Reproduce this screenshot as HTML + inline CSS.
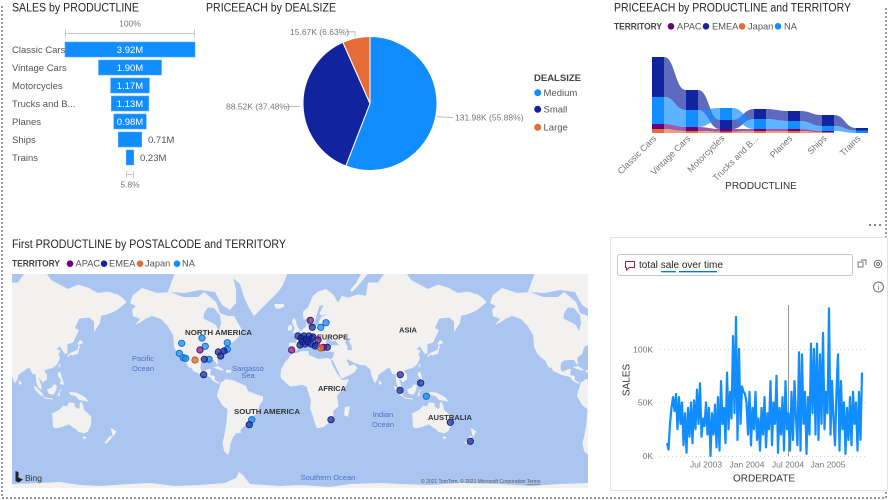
<!DOCTYPE html>
<html>
<head>
<meta charset="utf-8">
<style>
html,body{margin:0;padding:0;background:#fff;}
svg{display:block;}
text{font-family:"Liberation Sans",sans-serif;}
</style>
</head>
<body>
<svg width="891" height="500" viewBox="0 0 891 500" xmlns="http://www.w3.org/2000/svg">
<rect width="891" height="500" fill="#fff"/>

<!-- page dotted borders -->
<line x1="2" y1="6" x2="2" y2="498" stroke="#7a7a7a" stroke-width="1.5" stroke-dasharray="2 2"/>
<line x1="886" y1="8" x2="886" y2="498" stroke="#7a7a7a" stroke-width="1.5" stroke-dasharray="2 2"/>
<line x1="2" y1="498" x2="886" y2="498" stroke="#7a7a7a" stroke-width="1.5" stroke-dasharray="2 2"/>

<!-- ================= FUNNEL ================= -->
<text x="12" y="11.5" font-size="11.5" fill="#252423" textLength="127" lengthAdjust="spacingAndGlyphs">SALES by PRODUCTLINE</text>
<text x="130" y="26.5" font-size="8.5" fill="#777" text-anchor="middle">100%</text>
<g stroke="#c8c8c8" stroke-width="1">
<line x1="65" y1="33.5" x2="195" y2="33.5"/><line x1="65.5" y1="29.5" x2="65.5" y2="37.5"/><line x1="194.5" y1="29.5" x2="194.5" y2="37.5"/>
<line x1="126" y1="174.5" x2="134" y2="174.5"/><line x1="126.5" y1="171" x2="126.5" y2="178"/><line x1="133.5" y1="171" x2="133.5" y2="178"/>
</g>
<text x="130" y="187.5" font-size="8.5" fill="#777" text-anchor="middle">5.8%</text>
<g fill="#118dff" stroke="#5aadff" stroke-width="0.6">
<rect x="65" y="42" width="130" height="15"/>
<rect x="98.5" y="60" width="63" height="15"/>
<rect x="110.6" y="78" width="38.8" height="15"/>
<rect x="111.25" y="96" width="37.5" height="15"/>
<rect x="113.75" y="114" width="32.5" height="15"/>
<rect x="118.25" y="132" width="23.5" height="15"/>
<rect x="126.2" y="150" width="7.6" height="15"/>
</g>
<g font-size="9.5" fill="#555">
<text x="12" y="53">Classic Cars</text>
<text x="12" y="71">Vintage Cars</text>
<text x="12" y="89">Motorcycles</text>
<text x="12" y="107">Trucks and B...</text>
<text x="12" y="125">Planes</text>
<text x="12" y="143">Ships</text>
<text x="12" y="161">Trains</text>
</g>
<g font-size="9.5" fill="#fff" text-anchor="middle">
<text x="130" y="53">3.92M</text>
<text x="130" y="71">1.90M</text>
<text x="130" y="89">1.17M</text>
<text x="130" y="107">1.13M</text>
<text x="130" y="125">0.98M</text>
</g>
<g font-size="9.5" fill="#555">
<text x="148" y="143">0.71M</text>
<text x="140" y="161">0.23M</text>
</g>

<!-- ================= PIE ================= -->
<text x="206" y="11.5" font-size="11.5" fill="#252423" textLength="130" lengthAdjust="spacingAndGlyphs">PRICEEACH by DEALSIZE</text>
<g stroke="#fff" stroke-width="1">
<path d="M370,103.5 L370,36.5 A67,67 0 1 1 345.8,165.98 Z" fill="#118dff"/>
<path d="M370,103.5 L345.8,165.98 A67,67 0 0 1 342.86,42.24 Z" fill="#12239e"/>
<path d="M370,103.5 L342.86,42.24 A67,67 0 0 1 370,36.5 Z" fill="#e66c37"/>
</g>
<g stroke="#bbb" stroke-width="1" fill="none">
<polyline points="346,31.7 355,31.7 355,37"/>
<line x1="285" y1="106.5" x2="300" y2="106.5"/>
<line x1="437" y1="116.7" x2="453" y2="117.5"/>
</g>
<g font-size="8.5" fill="#777">
<text x="290" y="35">15.67K (6.63%)</text>
<text x="226" y="109.5">88.52K (37.48%)</text>
<text x="455" y="120.5">131.98K (55.88%)</text>
</g>
<text x="534" y="81" font-size="9.5" font-weight="bold" fill="#444">DEALSIZE</text>
<circle cx="537.7" cy="92.7" r="3.5" fill="#118dff"/>
<circle cx="537.7" cy="109.3" r="3.5" fill="#12239e"/>
<circle cx="537.7" cy="127.3" r="3.5" fill="#e66c37"/>
<g font-size="9.5" fill="#555">
<text x="543.5" y="96">Medium</text>
<text x="543.5" y="112.7">Small</text>
<text x="543.5" y="130.7">Large</text>
</g>

<!-- ================= RIBBON ================= -->
<text x="614" y="11.5" font-size="11.5" fill="#252423" textLength="237" lengthAdjust="spacingAndGlyphs">PRICEEACH by PRODUCTLINE and TERRITORY</text>
<text x="614" y="29.3" font-size="9.3" font-weight="bold" fill="#444" textLength="48" lengthAdjust="spacingAndGlyphs">TERRITORY</text>
<circle cx="671" cy="26.3" r="3.3" fill="#6b007b"/><text x="677" y="29.3" font-size="9.3" fill="#555">APAC</text>
<circle cx="706" cy="26.3" r="3.3" fill="#12239e"/><text x="712" y="29.3" font-size="9.3" fill="#555">EMEA</text>
<circle cx="742" cy="26.3" r="3.3" fill="#e66c37"/><text x="748" y="29.3" font-size="9.3" fill="#555">Japan</text>
<circle cx="778" cy="26.3" r="3.3" fill="#118dff"/><text x="784" y="29.3" font-size="9.3" fill="#555">NA</text>

<!-- ribbons -->
<g fill="#12239e" fill-opacity="0.68">
<path d="M664,57 C675,57 675,90 686,90 L686,110 C675,110 675,97 664,97 Z"/>
<path d="M698,90 C709,90 709,120 720,120 L720,129 C709,129 709,110 698,110 Z"/>
<path d="M732,120 C743,120 743,109 754,109 L754,119 C743,119 743,129 732,129 Z"/>
<path d="M766,109 C777,109 777,111 788,111 L788,121 C777,121 777,119 766,119 Z"/>
<path d="M800,111 C811,111 811,115 822,115 L822,126 C811,126 811,121 800,121 Z"/>
<path d="M834,115 C845,115 845,128 856,128 L856,130.5 C845,130.5 845,126 834,126 Z"/>
</g>
<g fill="#118dff" fill-opacity="0.68">
<path d="M664,97 C675,97 675,110 686,110 L686,127 C675,127 675,124 664,124 Z"/>
<path d="M698,110 C709,110 709,108 720,108 L720,120 C709,120 709,127 698,127 Z"/>
<path d="M732,108 C743,108 743,119 754,119 L754,129 C743,129 743,120 732,120 Z"/>
<path d="M766,119 C777,119 777,121 788,121 L788,129 C777,129 777,129 766,129 Z"/>
<path d="M800,121 C811,121 811,126 822,126 L822,131 C811,131 811,129 800,129 Z"/>
<path d="M834,126 C845,126 845,130.5 856,130.5 L856,133 C845,133 845,131 834,131 Z"/>
</g>
<g fill="#6b007b" fill-opacity="0.65">
<path d="M664,124 C675,124 675,127 686,127 L686,131 C675,131 675,129 664,129 Z"/>
<path d="M698,127 C709,127 709,129 720,129 L720,131.5 C709,131.5 709,131 698,131 Z"/>
<path d="M732,129 C743,129 743,129 754,129 L754,131 C743,131 743,131.5 732,131.5 Z"/>
<path d="M766,129 L788,129 L788,131 L766,131 Z"/>
<path d="M800,129 C811,129 811,131 822,131 L822,132.3 C811,132.3 811,131 800,131 Z"/>
</g>
<g fill="#e66c37" fill-opacity="0.65">
<path d="M664,129 C675,129 675,131 686,131 L686,133 L664,133 Z"/>
<path d="M698,131 C709,131 709,131.5 720,131.5 L720,133 L698,133 Z"/>
<path d="M732,131.5 C743,131.5 743,131 754,131 L754,133 L732,133 Z"/>
<path d="M766,131 L788,131 L788,133 L766,133 Z"/>
<path d="M800,131 C811,131 811,132.3 822,132.3 L822,133 L800,133 Z"/>
</g>
<!-- columns -->
<g>
<rect x="652" y="57" width="12" height="40" fill="#12239e"/><rect x="652" y="97" width="12" height="27" fill="#118dff"/><rect x="652" y="124" width="12" height="5" fill="#6b007b"/><rect x="652" y="129" width="12" height="4" fill="#e66c37"/>
<rect x="686" y="90" width="12" height="20" fill="#12239e"/><rect x="686" y="110" width="12" height="17" fill="#118dff"/><rect x="686" y="127" width="12" height="4" fill="#6b007b"/><rect x="686" y="131" width="12" height="2" fill="#e66c37"/>
<rect x="720" y="108" width="12" height="12" fill="#118dff"/><rect x="720" y="120" width="12" height="9" fill="#12239e"/><rect x="720" y="129" width="12" height="2.5" fill="#6b007b"/><rect x="720" y="131.5" width="12" height="1.5" fill="#e66c37"/>
<rect x="754" y="109" width="12" height="10" fill="#12239e"/><rect x="754" y="119" width="12" height="10" fill="#118dff"/><rect x="754" y="129" width="12" height="2" fill="#6b007b"/><rect x="754" y="131" width="12" height="2" fill="#e66c37"/>
<rect x="788" y="111" width="12" height="10" fill="#12239e"/><rect x="788" y="121" width="12" height="8" fill="#118dff"/><rect x="788" y="129" width="12" height="2" fill="#6b007b"/><rect x="788" y="131" width="12" height="2" fill="#e66c37"/>
<rect x="822" y="115" width="12" height="11" fill="#12239e"/><rect x="822" y="126" width="12" height="5" fill="#118dff"/><rect x="822" y="131" width="12" height="1.3" fill="#6b007b"/><rect x="822" y="132.3" width="12" height="0.7" fill="#e66c37"/>
<rect x="856" y="128" width="12" height="2.5" fill="#12239e"/><rect x="856" y="130.5" width="12" height="2.5" fill="#118dff"/>
</g>
<g font-size="9" fill="#777" text-anchor="end">
<text transform="translate(657,139) rotate(-45)">Classic Cars</text>
<text transform="translate(691,139) rotate(-45)">Vintage Cars</text>
<text transform="translate(725,139) rotate(-45)">Motorcycles</text>
<text transform="translate(759,139) rotate(-45)">Trucks and B...</text>
<text transform="translate(793,139) rotate(-45)">Planes</text>
<text transform="translate(827,139) rotate(-45)">Ships</text>
<text transform="translate(861,139) rotate(-45)">Trains</text>
</g>
<text x="761" y="189" font-size="10" fill="#333" text-anchor="middle">PRODUCTLINE</text>
<g fill="#777"><circle cx="870" cy="225" r="1.1"/><circle cx="875" cy="225" r="1.1"/><circle cx="880" cy="225" r="1.1"/></g>

<!-- ================= MAP ================= -->
<text x="12" y="248" font-size="11.5" fill="#252423" textLength="274" lengthAdjust="spacingAndGlyphs">First PRODUCTLINE by POSTALCODE and TERRITORY</text>
<text x="12" y="266.7" font-size="9.3" font-weight="bold" fill="#444" textLength="48" lengthAdjust="spacingAndGlyphs">TERRITORY</text>
<circle cx="70" cy="263.7" r="3.3" fill="#6b007b"/><text x="75.5" y="266.7" font-size="9.3" fill="#555">APAC</text>
<circle cx="104" cy="263.7" r="3.3" fill="#12239e"/><text x="109" y="266.7" font-size="9.3" fill="#555">EMEA</text>
<circle cx="140" cy="263.7" r="3.3" fill="#e66c37"/><text x="145" y="266.7" font-size="9.3" fill="#555">Japan</text>
<circle cx="177" cy="263.7" r="3.3" fill="#118dff"/><text x="182" y="266.7" font-size="9.3" fill="#555">NA</text>

<defs>
<clipPath id="mc"><rect x="12" y="274" width="576" height="214"/></clipPath>
<g id="nam">
<polygon points="130,303 133,295 142,288 157,293 170,292 183,297 198,297 204,292 210,297 216,302 220,313 228,316 234,316 242,330 238,338 232,343 228,345 224,347 222,354 217,358 218,363 217.5,365 216,363 214,360 209,360 204,360.5 201,363 200.5,368.5 202,372 207.5,369.5 211,369 210,375 215,376 214.5,380 218,382 220.5,383 218,383.5 213,381 210,377 206,376 202,375 193,371 192,368 188.5,367.3 185.5,361 183,359 181,357.5 177.5,354 174,347 173.5,339 173.3,335.6 168,326.5 161,319 152,316 146,318.5 140,322.5 135,325 140,319 133,316 132,310 136,306"/>
<polygon points="168,292 175,272 232,272 236,290 236,303 230,310 222,305 215,292 200,290 185,293"/>
<polygon points="226,272 288,272 283,285 278,292 268,302 260,310 254,316 249,308 244,297 240,284 233,278"/>
<polygon points="220.5,383 226,379 234,380.5 238,382.5 246,386 248,391 254,393.5 263,396.5 263,400 259,406 258,413.5 250,417.7 246,424.8 240.5,429.6 241,432.8 236,433.4 233,437.4 230.5,443.5 229.5,451.3 228,455 224,451 222.5,443 224.5,434.7 226.5,422.5 227.5,409.3 222,405.1 217,396 218,391 219,389 220.5,384"/>
<polygon points="213,367.5 218,366 224,370 221,370.5"/>
<polygon points="226,370 231,370 231,372.5 226,372.5"/>
<polygon points="274,304 284,304 284,306.7 279,308.9 275.5,308" />
</g>
<g id="eur">
<polygon points="289,343.8 289,351.1 292,352.5 296,351.5 298,348.3 301,344.1 304,343.5 307,342 310.5,345.3 314,350 316.5,347 313,344 311.5,339.8 314,341 317,344.4 318,348.3 321,351.7 322,349.6 321,346.4 324,346.2 325,351 327,351.7 334,351.7 333.5,355.9 332.5,357.7 330.5,359.5 328,358 318,359 313,356.6 309,355.3 308.5,351 301,351.3 296,353.3 292,352.6 288.5,358.4 285,362.3 281,369.6 280.5,376 281.5,378.9 285,382 290,386.5 296,386 302,384.7 307,387 307.5,390 309.5,396 311,400 310,408.4 312.5,414.6 314,420.8 316.5,427.6 318,428.2 323.5,427 328,423.6 330.5,420.8 333.5,415.8 333,411.4 338.5,406.2 338,401.5 337,396 340.5,391.5 346,386 349,379 342,380 341,378.4 337,373.7 333,366 330.9,360 332.9,360.6 337,369 341,377.9 343,378.1 350,374.8 354,372.7 357.5,367.9 354.3,364.1 349.5,366.1 346.5,359.7 348,359.5 354.5,363 360,364.9 365,365.3 370.5,369.5 371,373.7 374,382 375.5,383 378,377.8 378.3,374.9 384.5,370.6 387,368.5 389.5,368 392.5,374.3 395.5,374.3 396.5,383 398.5,388 401.5,389.7 401.5,386 398.5,377.4 403,382.4 407,379.4 407,374.8 404,370.6 408,369 412,368.2 417,364.5 420,358.4 418.5,354.2 420.5,350.4 416.5,349.1 420,346.3 424.5,353.6 427.5,353.3 427.5,344.1 433,342.6 439,330.4 435,327.7 439,318.7 449,317.5 454,321.3 454,331.9 460,323.3 461,316 470,313.4 477,310.3 486.5,302 483,298.3 478,294.6 468,291.6 458,293 448,287.6 438,284.6 428,289 411,280 403,268 388,268 378,282.5 368,282.5 366,295.7 358,294.4 348,297.8 342,295.7 338,302.8 333,294.4 326,289 318,291.6 313,295.7 308,307.4 303,311.7 303.5,318.6 306,319.6 308.5,317 310,323.6 311,324.4 314.5,322.4 316.5,315.5 319.5,305.8 323.5,305.4 319.5,313.3 321,315.5 327,314.3 321.5,316.9 319,321.4 319,324.3 312,326.9 308,326 306,321.4 306.5,326 304.5,327.8 302,330 300,331.8 296.5,333.7 293.3,335.3 296.5,339 296.5,342.7 289,342.7"/>
<polygon points="292.5,333.2 299.5,331.8 299.7,329.1 298,328 296.5,324.4 296,320.6 294.5,318.4 293,318.6 292,322.3 293,325 295,328.4 293.5,330.9"/>
<polygon points="288,330.6 292,330 292,325.5 289.5,324.7 288,327.3"/>
<polygon points="350,290 356,283 362,272 369,272 358,286 352,292"/>
<polygon points="345,407 350,406.3 348,417 344,415"/>
<polygon points="378.5,381 380,381 381.8,384 379,384.5"/>
<polygon points="428,357.7 430,354.8 433,355.4 438,353.6 439,349.1 440,345.3 438,346 437.8,349.6 434.5,351 430.5,352.9 427.5,355.4"/>
<polygon points="438,345 443.5,342.9 440,339.8 437.8,343.3"/>
<polygon points="418,366 419.5,363.5 420.5,367.5"/>
<polygon points="418,372.2 420.5,372.2 422,377.8 424,383.5 423.5,385 420,384 421,380 418,376.3"/>
<polygon points="407,389.5 408.5,393.5 412.5,395 414.5,393.5 416,390 417,386 414.5,384 411.5,387.5"/>
<polygon points="393.5,385.5 396,387 402,393 404,397 400,395 395,390"/>
<polygon points="403.5,397 412.5,398.6 412.5,399.8 404,398.2"/>
<polygon points="417.5,396.5 418.5,392 423,389.5 419,390.5 420,395.5"/>
<polygon points="429,392 436,392.5 445,397 448.5,401.6 439,400 435.5,396 430.5,395"/>
<polygon points="412,413.5 412.5,420.3 413,427.1 416,428.4 421.5,427.1 429,424.3 433.5,428.1 436,429 438.5,432 444.5,433.3 448,431.4 451,425 451.5,416.8 447.5,413 444,409.7 443.3,405.9 441.5,401.8 440,403.1 439.5,408.2 437.5,408.7 434.5,406.2 434.8,403.1 429,402.4 427,406.2 423,405.7 420,409.3 416,411.6"/>
<polygon points="442.5,436.6 446.3,436.9 445,439.6 443.5,438.4"/>
<polygon points="470.5,427.8 476.5,431.4 473,437 472,433.3"/>
<polygon points="470.5,435.5 472.3,437 469,441 466,444 464.5,442.6 469,437"/>
</g>
</defs>

<g clip-path="url(#mc)">
<rect x="12" y="274" width="576" height="214" fill="#aac6f0"/>
<g fill="#f2f1ef">
<use href="#nam"/>
<use href="#nam" x="360"/>
<use href="#eur"/>
<use href="#eur" x="-360"/>
<polygon points="12,488 12,484 40,483 60,482 80,485 100,486 130,484 150,483 175,486 200,485 225,483 236,478 239,472 243,475 250,484 280,486 300,485 330,487 350,484 380,483 400,484 430,485 460,483 500,484 530,486 560,484 588,483 588,488"/>
</g>
<g fill="#aac6f0">
<polygon points="203.5,318.6 210,321.8 216,325 219,331.2 221,323.3 220,315.5 214,308 208,307.4 204,313.4"/>
<polygon points="563.5,318.6 570,321.8 576,325 579,331.2 581,323.3 580,315.5 574,308 568,307.4 564,313.4"/>
<polygon points="326,343.8 326.5,339 329,338.2 331.5,341.2 335,340.5 339.5,345.3 334,345.3 329,346 326.5,345.7"/>
<polygon points="345,342 348,338 351,338.5 349,342 351.5,345.9 352,350.4 347,349.8 347.5,346.4"/>
</g>

<!-- ocean labels -->
<g font-size="7.5" fill="#4a72c2" text-anchor="middle">
<text x="143" y="361">Pacific</text><text x="143" y="371">Ocean</text>
<text x="248" y="371">Sargasso</text><text x="248" y="378">Sea</text>
<text x="383" y="417">Indian</text><text x="383" y="427">Ocean</text>
<text x="328" y="480">Southern Ocean</text>
</g>
<!-- continent labels -->
<g font-size="7.5" font-weight="bold" fill="#333">
<text x="185" y="335" textLength="67" lengthAdjust="spacingAndGlyphs">NORTH AMERICA</text>
<text x="317" y="339.5" textLength="31" lengthAdjust="spacingAndGlyphs">EUROPE</text>
<text x="399" y="332.5" textLength="18" lengthAdjust="spacingAndGlyphs">ASIA</text>
<text x="318" y="391" textLength="28" lengthAdjust="spacingAndGlyphs">AFRICA</text>
<text x="234" y="414" textLength="66" lengthAdjust="spacingAndGlyphs">SOUTH AMERICA</text>
<text x="428" y="420" textLength="44" lengthAdjust="spacingAndGlyphs">AUSTRALIA</text>
</g>

<!-- dots -->
<g fill="#118dff" fill-opacity="0.75" stroke="#0b63b8" stroke-width="0.8">
<circle cx="181.7" cy="343.3" r="3.2"/><circle cx="179.3" cy="353.3" r="3.2"/><circle cx="183.3" cy="357.7" r="3.2"/><circle cx="185.7" cy="358.3" r="3.2"/>
<circle cx="202" cy="338" r="3.2"/><circle cx="205.3" cy="346.3" r="3.2"/><circle cx="209" cy="359.3" r="3.2"/><circle cx="227.3" cy="342.7" r="3.2"/>
<circle cx="227.3" cy="349.3" r="3.2"/><circle cx="251.7" cy="419.7" r="3.2"/><circle cx="326" cy="322.7" r="3.2"/><circle cx="320.7" cy="327.3" r="3.2"/>
<circle cx="316.7" cy="345" r="3.2"/><circle cx="311.7" cy="338.3" r="3.2"/><circle cx="426.3" cy="396.3" r="3.2"/>
</g>
<g fill="#12239e" fill-opacity="0.7" stroke="#0c1870" stroke-width="0.8">
<circle cx="204.3" cy="359.3" r="3.2"/><circle cx="218.3" cy="352" r="3.2"/><circle cx="224" cy="351" r="3.2"/><circle cx="220.7" cy="356" r="3.2"/>
<circle cx="203.7" cy="374.7" r="3.2"/><circle cx="249.3" cy="424.7" r="3.2"/><circle cx="312.3" cy="327.3" r="3.2"/>
<circle cx="298" cy="336" r="3.2"/><circle cx="301" cy="338" r="3.2"/><circle cx="304" cy="336" r="3.2"/><circle cx="306" cy="339" r="3.2"/>
<circle cx="309" cy="336" r="3.2"/><circle cx="302" cy="342" r="3.2"/><circle cx="305" cy="344" r="3.2"/><circle cx="308" cy="342" r="3.2"/>
<circle cx="311" cy="344" r="3.2"/><circle cx="313" cy="337" r="3.2"/><circle cx="300" cy="345" r="3.2"/><circle cx="315" cy="346" r="3.2"/>
<circle cx="327.3" cy="347.3" r="3.2"/><circle cx="331" cy="419.7" r="3.2"/><circle cx="400.3" cy="374.7" r="3.2"/><circle cx="400" cy="390.3" r="3.2"/>
<circle cx="420.7" cy="383" r="3.2"/><circle cx="450.3" cy="422.3" r="3.2"/><circle cx="470.3" cy="441.3" r="3.2"/>
</g>
<g fill="#6b007b" fill-opacity="0.65" stroke="#4a0055" stroke-width="0.8">
<circle cx="200" cy="350" r="3.2"/><circle cx="310.3" cy="320.3" r="3.2"/><circle cx="291.7" cy="350" r="3.2"/><circle cx="318" cy="340" r="3.2"/><circle cx="323.3" cy="347.3" r="3.2"/>
</g>
<g fill="#e66c37" fill-opacity="0.8" stroke="#b04a20" stroke-width="0.8">
<circle cx="195" cy="360" r="3.2"/><circle cx="320.7" cy="348" r="3.2"/>
</g>

<!-- bing & copyright -->
<path d="M15.5,471 L18.5,472 L18.5,477.5 L23,479.5 L18.5,482.5 L15.5,481 Z" fill="#222"/>
<text x="25" y="481" font-size="8.5" fill="#333">Bing</text>
<text x="421" y="483" font-size="5" fill="#555">© 2021 TomTom, © 2021 Microsoft Corporation  <tspan text-decoration="underline">Terms</tspan></text>
</g>

<!-- ================= Q&A ================= -->
<rect x="610.5" y="237.5" width="277" height="253" fill="#fff" stroke="#e3e3e3" stroke-width="1"/>
<rect x="617.5" y="254.5" width="235" height="21" rx="2" fill="#fff" stroke="#c6c6c6" stroke-width="1"/>
<path d="M625.5,261.5 h9 v6 h-5 l-3,2.5 v-2.5 h-1 z" fill="none" stroke="#8a2a3a" stroke-width="1"/>
<text x="639" y="268" font-size="10" fill="#252423">total <tspan>sale</tspan> <tspan>over time</tspan></text>
<line x1="661" y1="271.7" x2="676" y2="271.7" stroke="#0078d4" stroke-width="1.3"/>
<line x1="679" y1="271.7" x2="717" y2="271.7" stroke="#0078d4" stroke-width="1.3"/>
<g fill="none" stroke="#666" stroke-width="0.9">
<rect x="858" y="262" width="5" height="5"/><path d="M861,260 h5 v5"/>
<circle cx="878" cy="264" r="3.8"/><circle cx="878" cy="264" r="1.5"/>
<circle cx="878.5" cy="287" r="5"/>
</g>
<text x="878.5" y="290" font-size="7" fill="#666" text-anchor="middle">i</text>

<!-- gridlines -->
<g stroke="#d6d6d6" stroke-width="1" stroke-dasharray="1 3">
<line x1="660" y1="349.5" x2="868" y2="349.5"/>
<line x1="660" y1="402.5" x2="868" y2="402.5"/>
<line x1="660" y1="456.5" x2="868" y2="456.5"/>
</g>
<g font-size="8.5" fill="#777" text-anchor="end">
<text x="653" y="352.5">100K</text>
<text x="653" y="405.5">50K</text>
<text x="653" y="459">0K</text>
</g>
<g font-size="8.5" fill="#777" text-anchor="middle">
<text x="706" y="467.5">Jul 2003</text>
<text x="747" y="467.5">Jan 2004</text>
<text x="788" y="467.5">Jul 2004</text>
<text x="828" y="467.5">Jan 2005</text>
</g>
<text x="764" y="481.5" font-size="10" fill="#333" text-anchor="middle">ORDERDATE</text>
<text transform="translate(629.5,380) rotate(-90)" font-size="10" fill="#333" text-anchor="middle">SALES</text>
<line x1="788.5" y1="305" x2="788.5" y2="456" stroke="#999" stroke-width="1"/>
<g transform="translate(667,456) scale(1.5,-1.07)">
<polyline fill="none" stroke="#118dff" stroke-width="2.2" stroke-linejoin="round" vector-effect="non-scaling-stroke" points="0,12 1,6 2,30 3,45 4,55 5,42 6,58 7,25 8,55 9,30 10,50 11,10 12,40 13,3 14,45 15,18 16,50 17,12 18,52 19,25 20,62 21,30 22,68 23,18 24,35 25,28 26,50 27,20 28,45 29,0 30,40 31,20 32,48 33,8 34,55 35,5 36,70 37,30 38,45 39,12 40,78 41,25 42,60 43,35 44,112 45,40 46,130 47,15 48,100 49,30 50,65 51,60 52,58 53,50 54,20 55,60 56,10 57,45 58,25 59,60 60,15 61,35 62,5 63,45 64,20 65,55 66,8 67,40 68,25 69,70 70,10 71,50 72,30 73,75 74,3 75,45 76,20 77,55 78,5 79,70 80,25 81,40 82,5 83,60 84,15 85,70 86,35 87,10 88,97 89,5 90,95 91,30 92,60 93,2 94,55 95,20 96,105 97,40 98,100 99,20 100,105 101,15 102,95 103,30 104,115 105,25 106,60 107,40 108,138 109,20 110,70 111,35 112,10 113,60 114,95 115,5 116,70 117,25 118,50 119,2 120,45 121,15 122,55 123,10 124,60 125,30 126,50 127,5 128,60 129,15 130,78"/>
</g>
</svg>
</body>
</html>
